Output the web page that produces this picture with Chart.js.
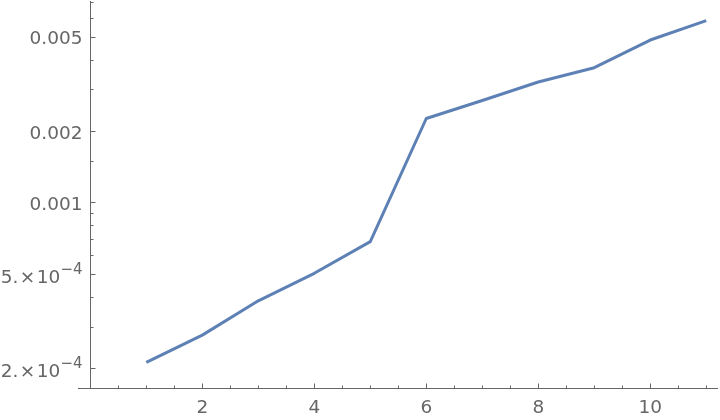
<!DOCTYPE html>
<html>
<head>
<meta charset="utf-8">
<script src="https://cdn.jsdelivr.net/npm/chart.js@4/dist/chart.umd.min.js"></script>
<style>
  html, body { margin: 0; padding: 0; background: #ffffff; }
  #wrap { width: 720px; height: 420px; }
</style>
</head>
<body>
<div id="wrap"><canvas id="c" width="720" height="420"></canvas></div>
<script>
// ---- data ----
const xValues = [1, 2, 3, 4, 5, 6, 7, 8, 9, 10, 11];
const yValues = [2.12e-4, 2.76e-4, 3.85e-4, 5.03e-4, 6.84e-4, 2.26e-3, 2.69e-3, 3.22e-3, 3.70e-3, 4.84e-3, 5.84e-3];

// ---- tick labels ----
const xTickValues = [2, 4, 6, 8, 10];
const xMinorTicks = [0.5, 1, 1.5, 2.5, 3, 3.5, 4.5, 5, 5.5, 6.5, 7, 7.5, 8.5, 9, 9.5, 10.5, 11];
const yTickValues = [2e-4, 5e-4, 1e-3, 2e-3, 5e-3];
const yTickLabels = ["2.×10^−4", "5.×10^−4", "0.001", "0.002", "0.005"];
const yMinorTicks = [3e-4, 4e-4, 6e-4, 7e-4, 8e-4, 9e-4, 1.5e-3, 3e-3, 4e-3, 6e-3, 7e-3];

const AXIS = '#666666';
const FONT = '"DejaVu Sans", sans-serif';

const axesPlugin = {
  id: 'mmaAxes',
  beforeDatasetsDraw(chart) {
    const ctx = chart.ctx;
    const xs = chart.scales.x, ys = chart.scales.y;
    const a = chart.chartArea;
    const x0 = Math.round(xs.getPixelForValue(0)) + 0.5;
    const yb = Math.round(a.bottom) + 0.5;
    ctx.save();
    ctx.strokeStyle = AXIS;
    ctx.lineWidth = 1;
    ctx.beginPath();
    // x axis
    ctx.moveTo(a.left, yb); ctx.lineTo(a.right, yb);
    // y axis
    ctx.moveTo(x0, a.top); ctx.lineTo(x0, a.bottom);
    // x ticks (inward)
    xTickValues.forEach(v => { const p = Math.round(xs.getPixelForValue(v)) + 0.5; ctx.moveTo(p, yb); ctx.lineTo(p, yb - 5); });
    xMinorTicks.forEach(v => { const p = Math.round(xs.getPixelForValue(v)) + 0.5; ctx.moveTo(p, yb); ctx.lineTo(p, yb - 3); });
    // y ticks (inward)
    yTickValues.forEach(v => { const p = Math.round(ys.getPixelForValue(v)) + 0.5; ctx.moveTo(x0, p); ctx.lineTo(x0 + 5, p); });
    yMinorTicks.forEach(v => { const p = Math.round(ys.getPixelForValue(v)) + 0.5; ctx.moveTo(x0, p); ctx.lineTo(x0 + 3, p); });
    ctx.stroke();

    // y labels
    ctx.fillStyle = AXIS;
    ctx.textBaseline = 'alphabetic';
    const right = x0 - 8;
    const mainFont = '18.5px ' + FONT, supFont = '15px ' + FONT;
    yTickValues.forEach((v, i) => {
      const p = ys.getPixelForValue(v);
      const lab = yTickLabels[i];
      if (lab.indexOf('^') < 0) {
        ctx.font = mainFont;
        ctx.textAlign = 'right';
        ctx.fillText(lab, right, p + 7.5);
      } else {
        const parts = lab.split('^');
        const base = parts[0], sup = parts[1];
        const mant = base.split('×')[0];
        const pow = base.split('×')[1];
        const gap = 1.5;
        ctx.font = mainFont;
        const wM = ctx.measureText(mant).width;
        const wX = ctx.measureText('×').width;
        const wP = ctx.measureText(pow).width;
        ctx.font = supFont;
        const wS = ctx.measureText(sup).width;
        let x = right - (wM + gap + wX + gap + wP + wS);
        ctx.textAlign = 'left';
        ctx.font = mainFont;
        ctx.fillText(mant, x, p + 9); x += wM + gap;
        ctx.fillText('×', x, p + 9); x += wX + gap;
        ctx.fillText(pow, x, p + 9); x += wP;
        ctx.font = supFont;
        ctx.fillText(sup, x, p - 0.3);
      }
    });
    ctx.restore();
  }
};

new Chart(document.getElementById('c'), {
  type: 'line',
  data: {
    datasets: [{
      data: xValues.map((x, i) => ({ x: x, y: yValues[i] })),
      borderColor: '#5E81B5',
      borderWidth: 3,
      pointRadius: 0,
      tension: 0,
      fill: false,
      borderJoinStyle: 'round'
    }]
  },
  options: {
    responsive: false,
    animation: false,
    devicePixelRatio: 1,
    layout: { padding: { left: 78, right: 2, top: 1, bottom: 0 } },
    plugins: { legend: { display: false }, tooltip: { enabled: false } },
    scales: {
      x: {
        type: 'linear',
        min: -0.22,
        max: 11.21,
        grid: { display: false, drawTicks: false },
        border: { display: false },
        afterBuildTicks: (s) => { s.ticks = xTickValues.map(v => ({ value: v })); },
        afterFit: (s) => { s.height = 32; },
        ticks: {
          color: AXIS,
          font: { family: FONT, size: 18.5 },
          padding: 9,
          maxRotation: 0,
          autoSkip: false
        }
      },
      y: {
        type: 'logarithmic',
        display: false,
        min: 1.652e-4,
        max: 7.07e-3
      }
    }
  },
  plugins: [axesPlugin]
});
</script>
</body>
</html>
